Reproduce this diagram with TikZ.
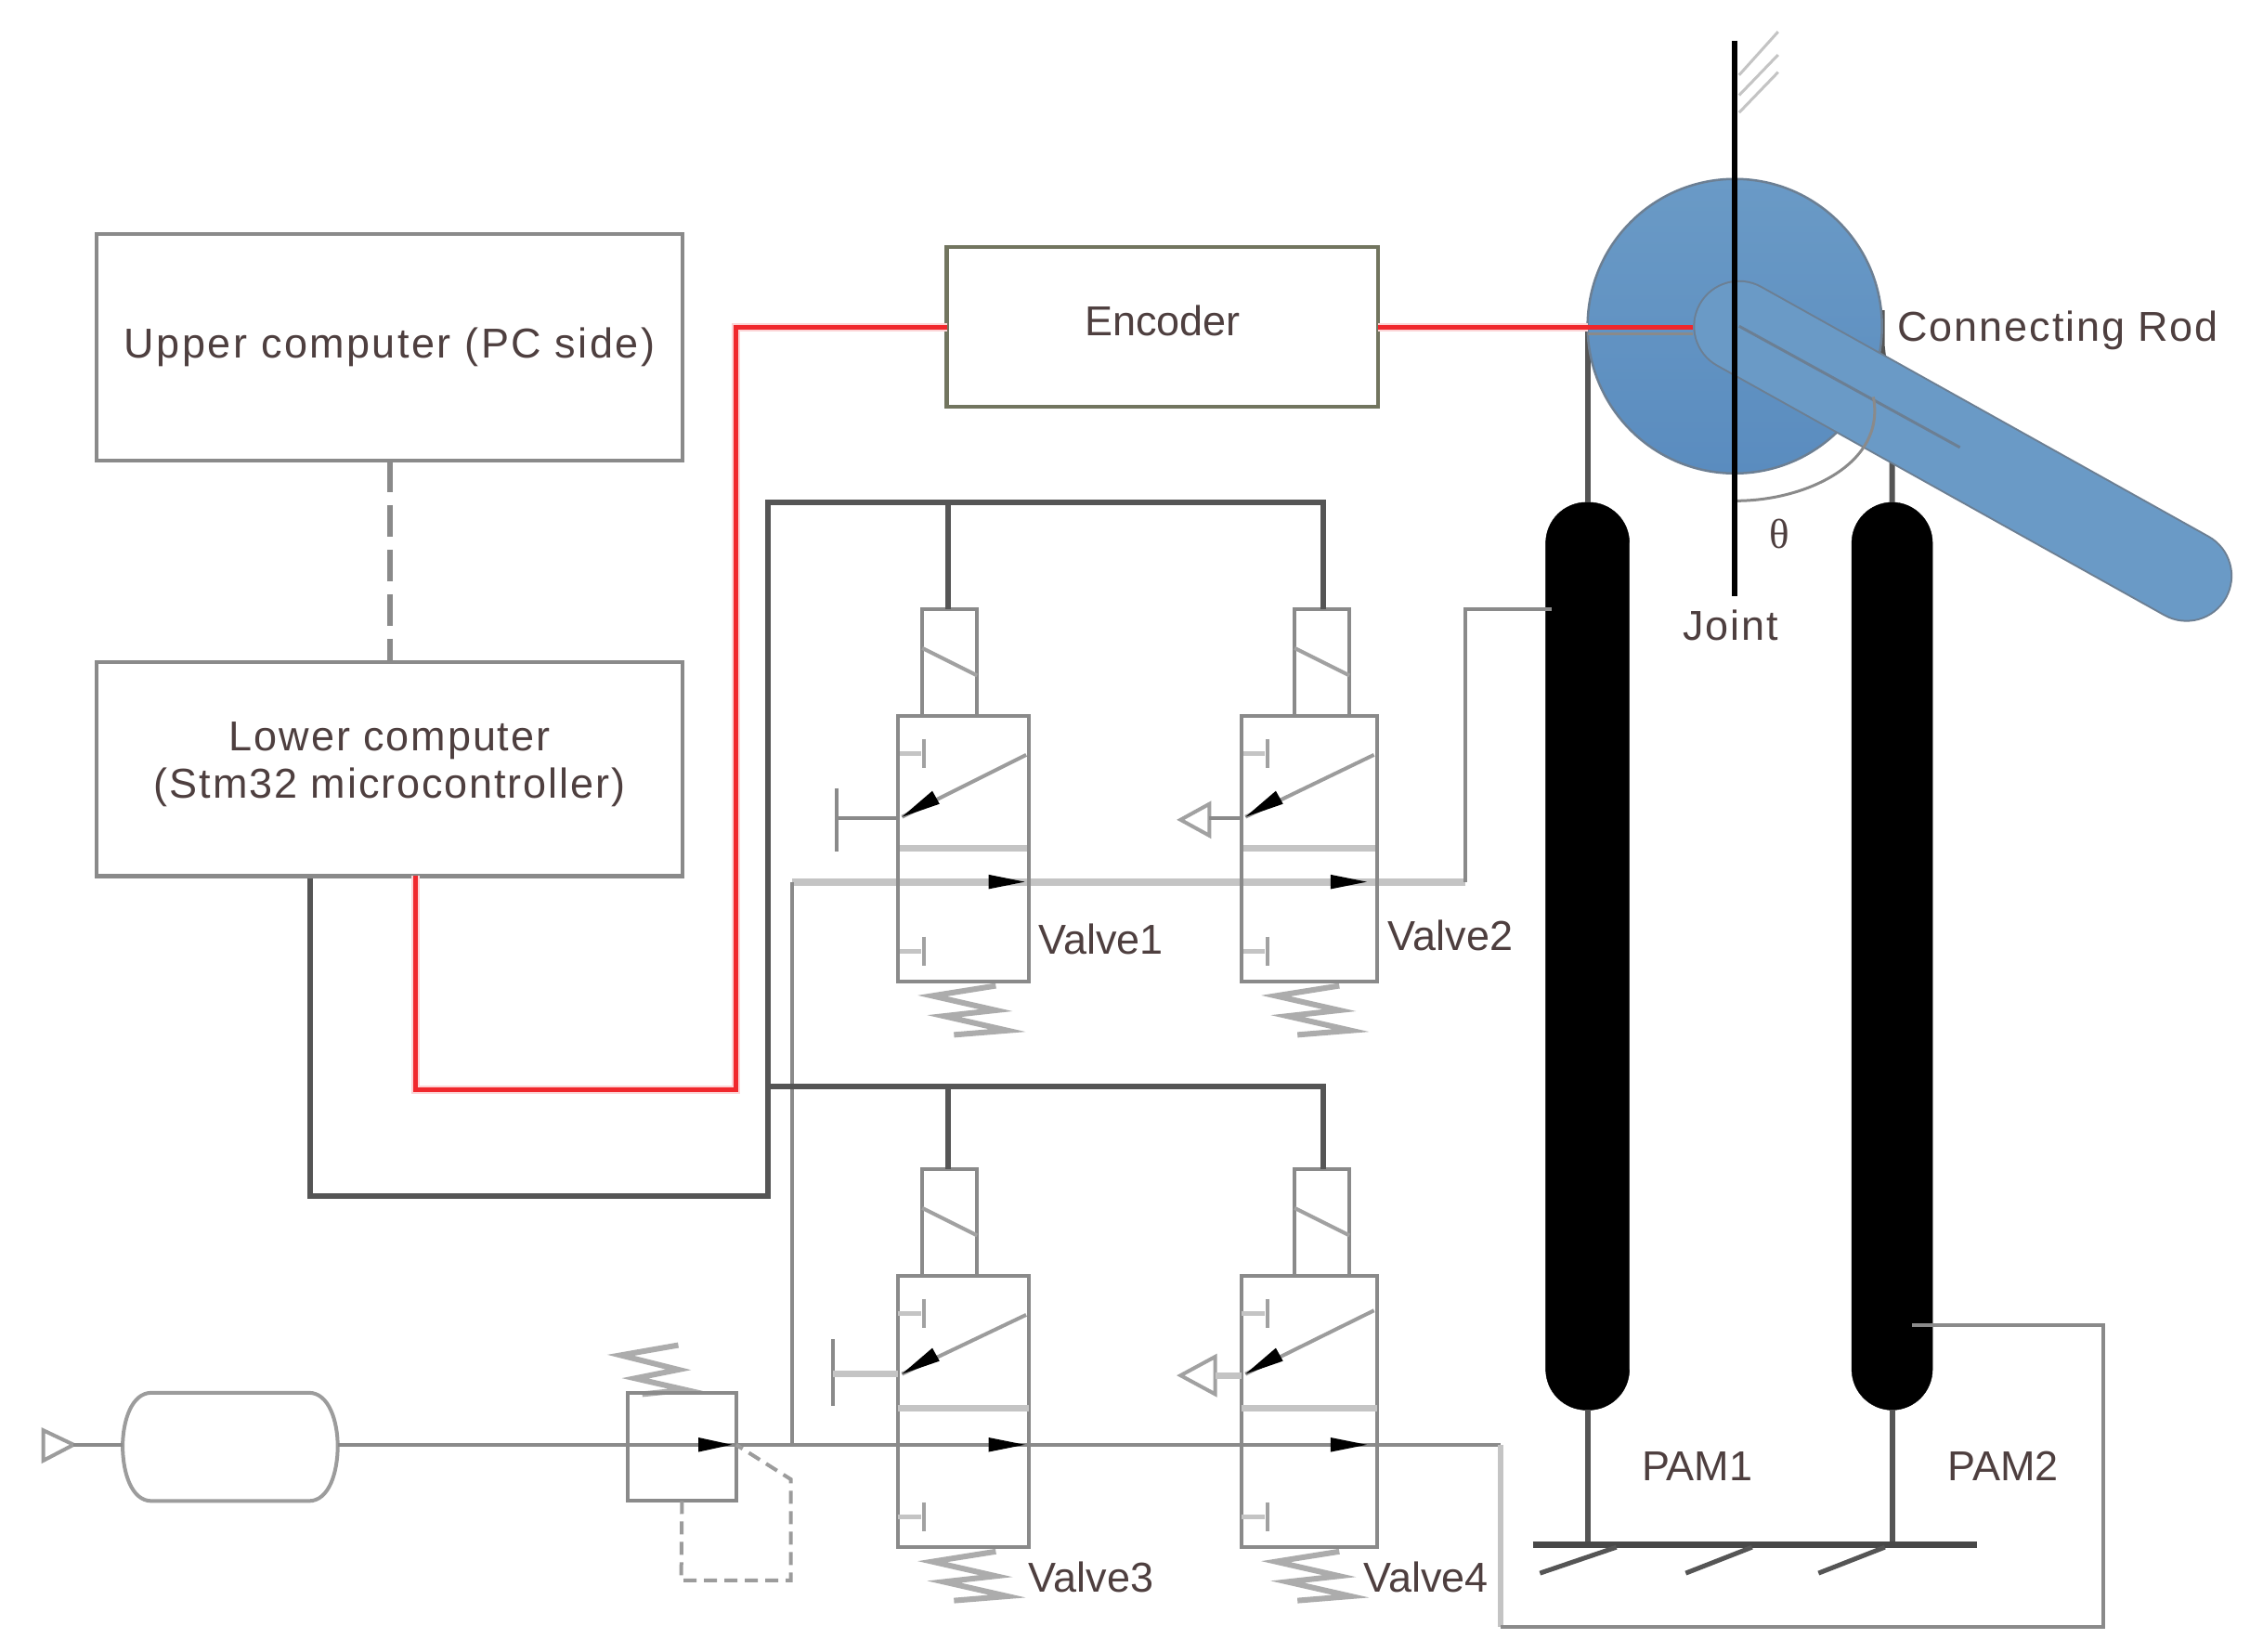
\documentclass[tikz,border=0pt]{standalone}
\usepackage{fontspec}
\setmainfont{Liberation Sans}
\newfontfamily\thetafont{Liberation Serif}
\newfontfamily\widefont[LetterSpace=4.2]{Liberation Sans}
\newfontfamily\widerfont[LetterSpace=5.4]{Liberation Sans}
\def\uu{1.5542pt}
\newcommand{\liftup}[2]{\raisebox{0pt}[\height][\dimexpr\depth+#1\relax]{#2}}
\definecolor{boxgray}{HTML}{8A8A8A}
\definecolor{palegray}{HTML}{C4C4C4}
\definecolor{ctrl}{HTML}{555555}
\definecolor{redline}{HTML}{F0282D}
\definecolor{redhalo}{HTML}{FCD4D6}
\definecolor{textc}{HTML}{4E3F3F}
\definecolor{enc}{HTML}{72755F}
\definecolor{rodblue}{HTML}{6A9AC6}
\definecolor{jointlow}{HTML}{5A8CBF}
\definecolor{rodedge}{HTML}{6C7F93}
\tikzset{
  thinbox/.style={draw=boxgray,line width=4.2pt,fill=white,inner sep=0pt,outer sep=0pt,rectangle,text=textc},
  lab/.style={text=textc,inner sep=0pt,font=\fontsize{45}{52}\selectfont},
  pipe/.style={draw=boxgray,line width=4pt},
  palepipe/.style={draw=palegray,line width=8pt},
  ctrlwire/.style={draw=ctrl,line width=6pt,line join=miter},
  redwire/.style={draw=redline,line width=5pt},
  halo/.style={draw=redhalo,line width=9pt},
  springline/.style={draw=boxgray,line width=6pt,opacity=.7},
  pam/.style={fill=black,draw=black,rectangle,rounded corners=44pt,inner sep=0pt,outer sep=0pt},
  groundline/.style={draw=ctrl!85!black,line width=7pt},
  hatch/.style={draw=palegray,line width=3pt},
}
\newcommand{\pbox}[7]{\node[#6,minimum width={(#4-#2)*\uu},minimum height={(#5-#3)*\uu}] (#1) at ({(#2+#4)/2},{(#3+#5)/2}) {#7};}
\newcommand{\pspring}[2]{\draw[springline] ({#1+68},{#2+3}) -- ({#1+24},{#2+10}) -- ({#1+68},{#2+20}) -- ({#1+32},{#2+24}) -- ({#1+76},{#2+34}) -- ({#1+39},{#2+37});}
\newcommand{\psol}[3]{\pbox{#1}{#2}{#3}{#2+38}{#3+74}{thinbox}{}
  \draw[pipe,draw=boxgray!80] (#2,{#3+27}) -- ({#2+38},{#3+46});}
\newcommand{\pvalve}[9]{\pbox{#1}{#2}{#4}{#3}{#5}{thinbox}{}
  \draw[pipe,palegray,line width=5pt] (#2,{#4+26}) -- ({#2+16},{#4+26});
  \draw[pipe,boxgray!80] ({#2+18},{#4+16}) -- ({#2+18},{#4+36});
  \draw[pipe,palegray,line width=5pt] (#2,{#5-21}) -- ({#2+16},{#5-21});
  \draw[pipe,boxgray!80] ({#2+18},{#5-31}) -- ({#2+18},{#5-11});
  \draw[pipe,boxgray!85] ({#2+3},#8) -- ({#3-2},#9);
  \fill[black] ({#2+3},#8) -- ({#2+24},{#8-18}) -- ({#2+29},{#8-9}) -- cycle;
  \draw[palepipe,line width=7pt] (#2,#6) -- (#3,#6);
  \pspring{#2}{#5}}
\newcommand{\parrow}[2]{\fill[black] ({#1},{#2-5}) -- ({#1+25},{#2}) -- ({#1},{#2+5}) -- cycle;}
\begin{document}
\begin{tikzpicture}[x=\uu,y=-\uu]
\useasboundingbox[fill=white] (0,0) rectangle (1568,1144.6);

% ----- valves and pipes underneath
\coordinate (tee) at (549,611);
\coordinate (teeB) at (549,1001);
\coordinate (c1) at (1015,611);
\coordinate (c2) at (1015,422);
\coordinate (c3) at (1075,422);
\coordinate (m1) at (1040,1001);
\coordinate (m2) at (1040,1127);
\coordinate (m3) at (1457,1127);
\coordinate (m4) at (1457,918);
\coordinate (m5) at (1325,918);

\psol{solA}{639}{422}
\psol{solB}{897}{422}
\psol{solC}{639}{810}
\psol{solD}{897}{810}
\pvalve{valveA}{622}{713}{496}{680}{588}{611}{566}{523}
\pvalve{valveB}{860}{954}{496}{680}{588}{611}{566}{523}
\pvalve{valveC}{622}{713}{884}{1072}{976}{1001}{952}{911}
\pvalve{valveD}{860}{954}{884}{1072}{976}{1001}{952}{908}

% pressure lines
\draw[palepipe] (tee) -- (c1);
\draw[pipe] (tee) -- (teeB);
\draw[pipe] (valveA.north west) -- (valveA.south west);
\draw[pipe] (valveA.north east) -- (valveA.south east);
\draw[pipe] (valveB.north west) -- (valveB.south west);
\draw[pipe] (valveB.north east) -- (valveB.south east);

% source, tank, relief valve
\coordinate (srcT) at (30,991);
\coordinate (srcB) at (30,1012);
\coordinate (srcTip) at (51,1001);
\draw[pipe,boxgray!85,line join=miter] (srcT) -- (srcTip) -- (srcB) -- cycle;
\draw[pipe,draw=boxgray!85] (105,965) -- (214,965) .. controls (228,965) and (234,985) .. (234,1002) .. controls (234,1020) and (228,1040) .. (214,1040) -- (105,1040) .. controls (91,1040) and (85,1020) .. (85,1002) .. controls (85,985) and (91,965) .. (105,965) -- cycle;
\coordinate (tankW) at (85,1001);
\coordinate (tankE) at (234,1001);
\draw[pipe] (srcTip) -- (tankW);
\pbox{relief}{435}{965}{510}{1040}{thinbox}{}
\draw[pipe,line join=miter] (tankE) -- (m1);
\draw[palepipe,line width=6pt] (m1) -- (m2);
\fill[black] (484,996) -- (507,1001) -- (484,1006) -- cycle;
\draw[springline] (470,932) -- (430,939) -- (470,949) -- (440,955) -- (475,963) -- (445,966);
\coordinate (d1) at (472,1095);
\coordinate (d2) at (548,1095);
\coordinate (d3) at (548,1025);
\coordinate (d4) at (510,1001);
\draw[pipe,draw=boxgray!85,dash pattern=on 14pt off 8pt] (relief.south) -- (d1) -- (d2) -- (d3) -- (d4);

% arrows and side symbols on the valves
\parrow{685}{611}
\parrow{922}{611}
\parrow{685}{1001}
\parrow{922}{1001}
\draw[pipe] (580,546) -- (580,590);
\draw[pipe] (580,567) -- (622,567);
\draw[pipe,boxgray!80,line join=miter] (838,557) -- (818,568) -- (838,579) -- cycle;
\draw[pipe] (838,567) -- (860,567);
\draw[pipe] (577,928) -- (577,974);
\draw[palepipe,line width=7pt] (577,952) -- (622,952);
\draw[pipe,boxgray!80,line join=miter] (842,940) -- (818,953) -- (842,966) -- cycle;
\draw[palepipe,line width=7pt] (842,953) -- (860,953);

% ----- control wiring
\coordinate (lowGray) at (215,607);
\coordinate (g1) at (215,829);
\coordinate (g2) at (532,829);
\coordinate (g3) at (532,348);
\coordinate (g4) at (917,348);
\coordinate (g5) at (657,348);
\coordinate (g6) at (532,753);
\coordinate (g7) at (917,753);
\coordinate (g8) at (657,753);
\coordinate (g9) at (917,422);
\coordinate (g10) at (657,422);
\coordinate (g11) at (917,810);
\coordinate (g12) at (657,810);
\draw[ctrlwire] (lowGray) -- (g1) -- (g2) -- (g3) -- (g4) -- (g9);
\draw[ctrlwire] (g5) -- (g10);
\draw[ctrlwire] (g6) -- (g7) -- (g11);
\draw[ctrlwire] (g8) -- (g12);

% ----- computers and encoder
\pbox{upper}{67}{162}{473}{319}{thinbox,font=\fontsize{45}{52}\widerfont}{\liftup{0pt}{Upper computer (PC side)}}
\pbox{lower}{67}{459}{473}{607}{thinbox,font=\fontsize{45}{51}\widefont}{\liftup{9pt}{\begin{tabular}{@{}c@{}}Lower computer\\(Stm32 microcontroller)\end{tabular}}}
\pbox{encoder}{656}{171}{955}{282}{thinbox,draw=enc,font=\fontsize{45}{52}\selectfont}{\liftup{14pt}{Encoder}}
\draw[boxgray,line width=6pt,dash pattern=on 34pt off 14pt] (upper.south) -- (lower.north);

\coordinate (r1) at (510,227);
\coordinate (r2) at (510,755);
\coordinate (r3) at (288,755);
\coordinate (r4) at (288,607);
\coordinate (r5) at (1173,227);
\coordinate (r6) at (1100,227);
\draw[halo,line join=miter] (encoder.west |- r1) -- (r1) -- (r2) -- (r3) -- (r4);
\draw[redwire,line join=miter] (encoder.west |- r1) -- (r1) -- (r2) -- (r3) -- (r4);

% ----- PAMs, joint and rod
\pbox{pamA}{1071}{348}{1129}{977}{pam}{}
\pbox{pamB}{1283}{348}{1339}{977}{pam}{}
\draw[pipe,line join=miter] (c1) -- (c2) -- (c3);
\draw[pipe,line join=miter] (m2) -- (m3) -- (m4) -- (m5);
\coordinate (cabA) at (1100,229);
\coordinate (cabB) at (1304,215);
\coordinate (cabB2) at (1304,240);
\coordinate (cabC) at (1311,300);
\draw[ctrlwire] (cabA) -- (pamA.north);
\draw[ctrlwire] (cabB) -- (cabB2) -- (cabC) -- (pamB.north);
\node[circle,minimum size={204*\uu},inner sep=0pt,outer sep=0pt,top color=rodblue,bottom color=jointlow,draw=rodedge,line width=2.5pt] (joint) at (1202,226) {};
\coordinate (rodA) at (1205,226);
\coordinate (rodB) at (1515,399);
\coordinate (rodM) at (1358,310);
\draw[rodedge,line width=99pt,line cap=round] (rodA) -- (rodB);
\draw[rodblue,line width=95pt,line cap=round] (rodA) -- (rodB);
\draw[rodedge,line width=3pt] (rodA) -- (rodM);
\coordinate (arcS) at (1203,347);
\coordinate (arcE) at (1298,275);
\draw[boxgray,line width=3pt] (arcS) .. controls (1250,347) and (1307,322) .. (arcE);
\draw[halo] (encoder.east |- r5) -- (r6);
\draw[boxgray,line width=3pt] (r6) ++(0,4) -- (1173,231);
\draw[redwire] (encoder.east |- r5) -- (r5);
\coordinate (shaftT) at (1202,28);
\coordinate (shaftB) at (1202,413);
\draw[black,line width=5.5pt] (shaftT) -- (shaftB);
\draw[hatch] (1205,52) -- (1232,22);
\draw[hatch] (1205,66) -- (1232,38);
\draw[hatch] (1205,78) -- (1232,50);

% ----- ground
\coordinate (gL) at (1062,1070);
\coordinate (gR) at (1370,1070);
\coordinate (gA) at (1100,1070);
\coordinate (gB) at (1311,1070);
\draw[ctrlwire] (pamA.south) -- (gA);
\draw[ctrlwire] (pamB.south) -- (gB);
\draw[groundline] (gL) -- (gR);
\draw[ctrlwire,line width=5pt] (1120,1072) -- (1067,1090);
\draw[ctrlwire,line width=5pt] (1214,1072) -- (1168,1090);
\draw[ctrlwire,line width=5pt] (1306,1072) -- (1260,1090);

% ----- labels
\node[lab,font=\fontsize{45}{52}\widefont] (lblRod) at (1426,229) {Connecting Rod};
\node[lab,font=\fontsize{45}{52}\widefont] (lblJoint) at (1199,433) {Joint};
\node[lab,font=\fontsize{45}{52}\thetafont] (lblTheta) at (1233,370) {θ};
\node[lab] (lblP1) at (1176,1016) {PAM1};
\node[lab] (lblP2) at (1388,1016) {PAM2};
\node[lab] (lblV1) at (763,651) {Valve1};
\node[lab] (lblV2) at (1005,648) {Valve2};
\node[lab] (lblV3) at (756,1093) {Valve3};
\node[lab] (lblV4) at (988,1093) {Valve4};
\end{tikzpicture}
\end{document}
